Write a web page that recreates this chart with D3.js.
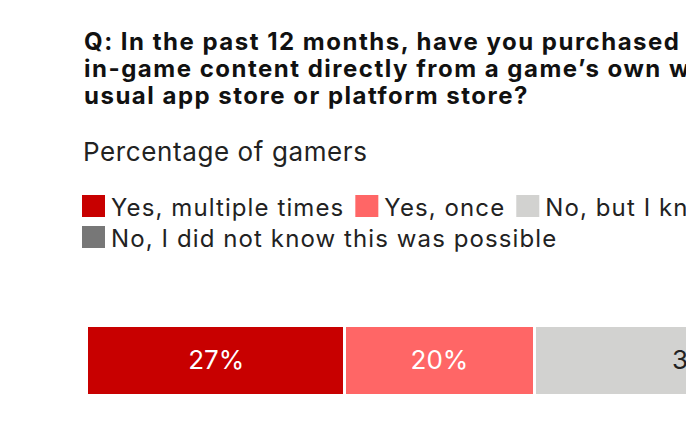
<!DOCTYPE html>
<html>
<head>
<meta charset="utf-8">
<script src="https://cdn.jsdelivr.net/npm/d3@7"></script>
<style>
  html, body { margin: 0; padding: 0; background: #fff; overflow: hidden; }
  svg { display: block; }
</style>
</head>
<body>
<svg id="chart" width="686" height="440"></svg>
<script>
// data
const titleLines = [
  "Q: In the past 12 months, have you purchased items or",
  "in-game content directly from a game\u2019s own website rather than your",
  "usual app store or platform store?"
];
const subtitle = "Percentage of gamers";
const categories = [
  "Yes, multiple times",
  "Yes, once",
  "No, but I knew this was possible",
  "No, I did not know this was possible"
];
const values = [27, 20, 35, 18];
const colors = ["#c80000", "#ff6666", "#d2d2d0", "#777777"];
const labelColors = ["#fff", "#fff", "#222", "#fff"];

const svg = d3.select("#chart");
const font = "Inter, 'Noto Sans', sans-serif";

// title
svg.append("g")
  .selectAll("text")
  .data(titleLines)
  .join("text")
    .attr("x", 84)
    .attr("y", (d, i) => 50 + i * 27)
    .style("font-family", font)
    .style("font-weight", 700)
    .style("font-size", "24px")
    .style("letter-spacing", "1.5px")
    .style("fill", "#111")
    .text(d => d);

svg.append("text")
  .attr("x", 83)
  .attr("y", 161)
  .style("font-family", font)
  .style("font-size", "26px")
  .style("letter-spacing", "0.6px")
  .style("fill", "#222")
  .text(subtitle);

// legend (two rows, first three items on row one)
const legendRows = [[0, 1, 2], [3]];
const legendG = svg.append("g");
const swatch = 23;
legendRows.forEach((row, r) => {
  let x = 82;
  const y = 195 + r * 31;
  row.forEach(i => {
    legendG.append("rect")
      .attr("x", x).attr("y", y)
      .attr("width", swatch).attr("height", 22)
      .attr("fill", colors[i]);
    const t = legendG.append("text")
      .attr("x", x + swatch + 6)
      .attr("y", y + 21)
      .style("font-family", font)
      .style("font-size", "24px")
      .style("letter-spacing", "1.1px")
      .style("fill", "#222")
      .text(categories[i]);
    x += swatch + 6 + t.node().getComputedTextLength() + 11;
  });
});

// stacked bar
const x = d3.scaleLinear().domain([0, 100]).range([88, 88 + 950]);
let acc = 0;
const segs = values.map((v, i) => {
  const s = { i, v, x0: acc, x1: acc + v };
  acc += v;
  return s;
});

const barY = 327, barH = 67;
const barG = svg.append("g");
barG.selectAll("rect")
  .data(segs)
  .join("rect")
    .attr("x", d => x(d.x0) + (d.i > 0 ? 1.5 : 0))
    .attr("y", barY)
    .attr("width", d => x(d.x1) - x(d.x0) - (d.i > 0 ? 3 : 1.5))
    .attr("height", barH)
    .attr("fill", d => colors[d.i]);

barG.selectAll("text")
  .data(segs)
  .join("text")
    .attr("x", d => (x(d.x0) + x(d.x1)) / 2)
    .attr("y", 369)
    .attr("text-anchor", "middle")
    .style("font-family", font)
    .style("font-size", "26px")
    .style("fill", d => labelColors[d.i])
    .text(d => d.v + "%");
</script>
</body>
</html>
